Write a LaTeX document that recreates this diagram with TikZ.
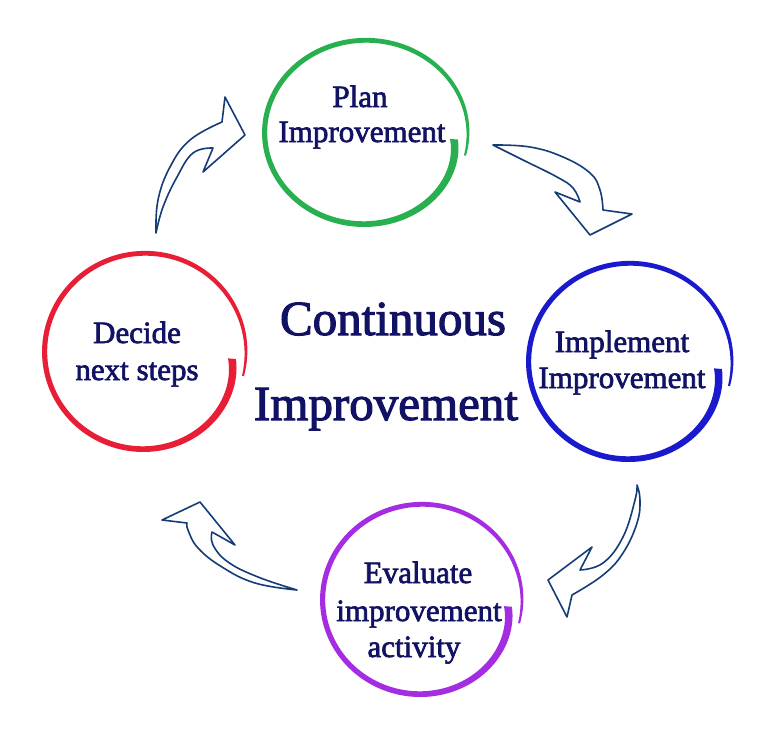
\documentclass[tikz,border=0pt]{standalone}
\usepackage{fontspec}
\setmainfont{Liberation Serif}
\newfontfamily\heavyserif{Liberation Serif}[FakeBold=2.2]
\definecolor{navy}{RGB}{18,18,100}
\definecolor{cgreen}{RGB}{40,175,80}
\definecolor{cblue}{RGB}{25,25,205}
\definecolor{cred}{RGB}{232,30,55}
\definecolor{cpurple}{RGB}{165,45,225}
\definecolor{arrowblue}{RGB}{20,60,120}
\newcommand\brushring[5]{%
 \fill[#5] plot[domain=0.5:370,samples=200,variable=\x]
   ({#1+(#3-13*exp(-\x/35)+\x/370+(5+3*exp(-\x/60)-3*(\x/370)^8)/2)*cos(4+\x)},
    {#2+(#4-13*exp(-\x/35)+\x/370+(5+3*exp(-\x/60)-3*(\x/370)^8)/2)*sin(4+\x)})
   -- plot[domain=370:0.5,samples=200,variable=\x]
   ({#1+(#3-13*exp(-\x/35)+\x/370-(5+3*exp(-\x/60)-3*(\x/370)^8)/2)*cos(4+\x)},
    {#2+(#4-13*exp(-\x/35)+\x/370-(5+3*exp(-\x/60)-3*(\x/370)^8)/2)*sin(4+\x)})
   -- cycle;}
\tikzset{
  lbl/.style={text=navy, font=\heavyserif\fontsize{31}{36}\selectfont, anchor=base, inner sep=0pt},
  ttl/.style={text=navy, font=\heavyserif\fontsize{49}{56}\selectfont, anchor=base, inner sep=0pt},
  arr/.style={draw=arrowblue, line width=1.6pt, line join=round, fill=white},
}
\begin{document}
\begin{tikzpicture}[x=1pt,y=-1pt]
\useasboundingbox (0,0) rectangle (768,755);
\fill[white] (0,0) rectangle (768,755);

% brush circles
\brushring{366}{133}{101}{92}{cgreen}
\brushring{630}{362}{101}{98}{cblue}
\brushring{145}{352}{100}{98}{cred}
\brushring{422}{600}{99}{95}{cpurple}

% texts
\node[lbl] (plan1) at (360,107) {Plan};
\node[lbl] (plan2) at (362,142) {Improvement};
\node[lbl] (impl1) at (622,352) {Implement};
\node[lbl] (impl2) at (622,388) {Improvement};
\node[lbl] (dec1) at (137,343) {Decide};
\node[lbl] (dec2) at (137,380) {next steps};
\node[lbl] (eval1) at (418,583) {Evaluate};
\node[lbl] (eval2) at (419,621) {improvement};
\node[lbl] (eval3) at (414,657) {activity};
\node[ttl] (title1) at (393,335) {Continuous};
\node[ttl] (title2) at (386,420) {Improvement};

% arrows
\draw[arr] plot[smooth,tension=0.7] coordinates {(156,233) (158,200) (170,167) (190,140) (222,122)}
  -- (225,97) -- (245,135) -- (203,172) -- (213,148)
  -- plot[smooth,tension=0.7] coordinates {(213,148) (193,153) (177,177) (163,207) (156,233)} -- cycle;
\draw[arr] plot[smooth,tension=0.7] coordinates {(493,145) (530,147) (563,157) (590,173) (600,190) (603,210)}
  -- (632,214) -- (590,235) -- (555,192) -- (580,202)
  -- plot[smooth,tension=0.7] coordinates {(580,202) (573,188) (557,177) (523,160) (493,145)} -- cycle;
\draw[arr] plot[smooth,tension=0.7] coordinates {(637,485) (640,500) (637,523) (623,553) (603,575) (572,595)}
  -- (567,617) -- (548,580) -- (592,547) -- (580,570)
  -- plot[smooth,tension=0.7] coordinates {(580,570) (603,563) (623,537) (635,500) (637,485)} -- cycle;
\draw[arr] plot[smooth,tension=0.7] coordinates {(297,590) (255,583) (222,567) (198,548) (188,530) (187,523)}
  -- (162,520) -- (200,502) -- (235,545) -- (212,532)
  -- plot[smooth,tension=0.7] coordinates {(212,532) (213,545) (228,562) (258,577) (297,590)} -- cycle;
\end{tikzpicture}
\end{document}
